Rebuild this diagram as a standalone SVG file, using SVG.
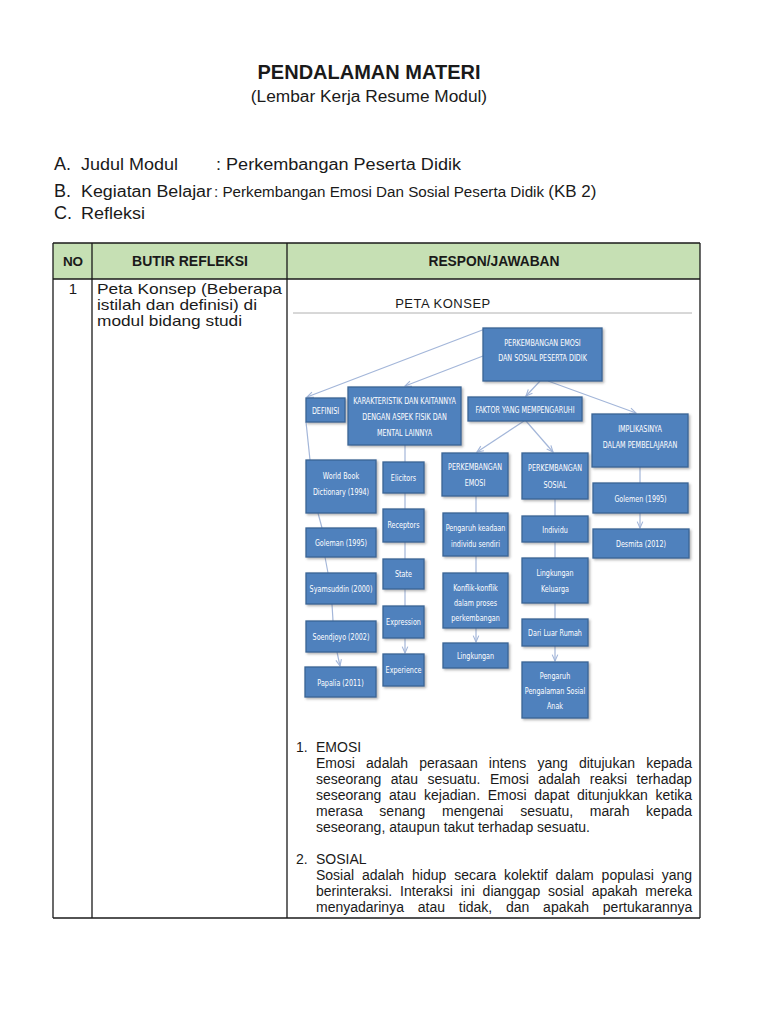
<svg xmlns="http://www.w3.org/2000/svg" width="768" height="1024" viewBox="0 0 768 1024">
<defs>
<style>
.t{font-family:"Liberation Sans",Arial,sans-serif;fill:#1a1a1a}
.b{font-weight:bold}
.m{font-family:"DejaVu Sans Condensed","Liberation Sans",sans-serif;font-size:9.4px;fill:#ffffff;text-anchor:middle}
.n{fill:#4f81bd;stroke:#3a6495;stroke-width:1.3;filter:url(#sh)}
.c{fill:none;stroke:#a3b6d9;stroke-width:1.2}
.a{marker-end:url(#arr)}
.g{stroke:#1a1a1a;stroke-width:1.3;fill:none}
.p{font-size:14px}
.h{font-size:16px}
.k{font-size:18px}
</style>
<filter id="sh" x="-10%" y="-10%" width="130%" height="130%">
<feDropShadow dx="1.5" dy="1.5" stdDeviation="1" flood-color="#555" flood-opacity="0.45"/>
</filter>
<marker id="arr" viewBox="0 0 10 10" refX="9" refY="5" markerWidth="8" markerHeight="8" orient="auto" markerUnits="userSpaceOnUse">
<path d="M1,1.5 L9,5 L1,8.5" fill="none" stroke="#a3b6d9" stroke-width="1.4"/>
</marker>
</defs>
<rect width="768" height="1024" fill="#ffffff"/>

<!-- Header -->
<text class="t b" x="369" y="79" font-size="20" text-anchor="middle">PENDALAMAN MATERI</text>
<text class="t" x="369" y="102" font-size="17.3" text-anchor="middle">(Lembar Kerja Resume Modul)</text>

<text class="t k" x="54" y="170">A.</text>
<text class="t h" x="81" y="170" textLength="97" lengthAdjust="spacingAndGlyphs">Judul Modul</text>
<text class="t h" x="216" y="170" textLength="245" lengthAdjust="spacingAndGlyphs">: Perkembangan Peserta Didik</text>
<text class="t k" x="54" y="197">B.</text>
<text class="t h" x="81" y="197" textLength="131" lengthAdjust="spacingAndGlyphs">Kegiatan Belajar</text>
<text class="t" x="214" y="197" font-size="15.2">: Perkembangan Emosi Dan Sosial Peserta Didik <tspan font-size="17">(KB 2)</tspan></text>
<text class="t k" x="54" y="219">C.</text>
<text class="t h" x="81" y="219" textLength="64" lengthAdjust="spacingAndGlyphs">Refleksi</text>

<!-- Table -->
<g id="table">
<rect x="53" y="243" width="647" height="36" fill="#c6e0b4"/>
<line class="g" x1="53" y1="243" x2="700" y2="243"/>
<line class="g" x1="53" y1="279" x2="700" y2="279" stroke-width="2"/>
<line class="g" x1="53" y1="918" x2="700" y2="918" stroke-width="2"/>
<line class="g" x1="53" y1="243" x2="53" y2="918"/>
<line class="g" x1="92" y1="243" x2="92" y2="918"/>
<line class="g" x1="287" y1="243" x2="287" y2="918"/>
<line class="g" x1="700" y1="243" x2="700" y2="918"/>
<text class="t b" x="73" y="266" font-size="13.5" text-anchor="middle">NO</text>
<text class="t b" x="190" y="266" font-size="14" text-anchor="middle">BUTIR REFLEKSI</text>
<text class="t b" x="494" y="266" font-size="13.8" text-anchor="middle">RESPON/JAWABAN</text>
<text class="t" x="73" y="294" font-size="15" text-anchor="middle">1</text>
<text class="t" x="97" y="294" font-size="15" textLength="185" lengthAdjust="spacingAndGlyphs">Peta Konsep (Beberapa</text>
<text class="t" x="97" y="310" font-size="15" textLength="160" lengthAdjust="spacingAndGlyphs">istilah dan definisi) di</text>
<text class="t" x="97" y="326" font-size="15" textLength="145" lengthAdjust="spacingAndGlyphs">modul bidang studi</text>
</g>

<!-- Peta konsep heading -->
<text class="t" x="443" y="308" font-size="13" text-anchor="middle" letter-spacing="0.5">PETA KONSEP</text>
<line x1="293" y1="313" x2="692" y2="313" stroke="#b0b0b0" stroke-width="1"/>

<!-- Connectors -->
<g id="connectors">
<line class="c a" x1="485" y1="329" x2="307" y2="397"/>
<line class="c a" x1="483" y1="356" x2="405" y2="386"/>
<line class="c a" x1="540" y1="381" x2="526" y2="396"/>
<line class="c a" x1="548" y1="381" x2="636" y2="413"/>
<line class="c a" x1="524" y1="421" x2="477" y2="452"/>
<line class="c a" x1="526" y1="421" x2="553" y2="452"/>
<line class="c" x1="306" y1="422" x2="310" y2="460"/>
<line class="c" x1="318" y1="513" x2="322" y2="528"/>
<line class="c" x1="325" y1="557" x2="328" y2="573"/>
<line class="c" x1="332" y1="604" x2="333" y2="621"/>
<line class="c a" x1="337" y1="652" x2="340" y2="666"/>
<line class="c" x1="405" y1="445" x2="405" y2="462"/>
<line class="c" x1="405" y1="493" x2="405" y2="509"/>
<line class="c" x1="405" y1="542" x2="405" y2="559"/>
<line class="c" x1="405" y1="589" x2="405" y2="606"/>
<line class="c a" x1="405" y1="638" x2="405" y2="653"/>
<line class="c" x1="476" y1="496" x2="476" y2="513"/>
<line class="c" x1="476" y1="556" x2="476" y2="573"/>
<line class="c a" x1="476" y1="628" x2="476" y2="642"/>
<line class="c" x1="555" y1="499" x2="555" y2="516"/>
<line class="c" x1="555" y1="542" x2="555" y2="558"/>
<line class="c" x1="555" y1="603" x2="555" y2="619"/>
<line class="c a" x1="555" y1="646" x2="555" y2="661"/>
<line class="c" x1="640" y1="467" x2="640" y2="483"/>
<line class="c a" x1="640" y1="513" x2="640" y2="528"/>
</g>

<!-- Nodes -->
<g id="n-root"><rect class="n" x="483" y="328" width="119" height="53"/><text class="m" transform="translate(542.5 346) scale(0.76 1)">PERKEMBANGAN EMOSI</text><text class="m" transform="translate(542.5 361) scale(0.76 1)">DAN SOSIAL PESERTA DIDIK</text></g>
<g id="n-definisi"><rect class="n" x="306" y="398" width="39" height="24"/><text class="m" transform="translate(325.5 414) scale(0.76 1)">DEFINISI</text></g>
<g id="n-karakteristik"><rect class="n" x="348" y="387" width="113" height="58"/><text class="m" transform="translate(404.5 404) scale(0.76 1)">KARAKTERISTIK DAN KAITANNYA</text><text class="m" transform="translate(404.5 420) scale(0.76 1)">DENGAN ASPEK FISIK DAN</text><text class="m" transform="translate(404.5 436) scale(0.76 1)">MENTAL LAINNYA</text></g>
<g id="n-faktor"><rect class="n" x="468" y="397" width="114" height="24"/><text class="m" transform="translate(525 413) scale(0.76 1)">FAKTOR YANG MEMPENGARUHI</text></g>
<g id="n-implikasi"><rect class="n" x="592" y="414" width="96" height="53"/><text class="m" transform="translate(640 432) scale(0.76 1)">IMPLIKASINYA</text><text class="m" transform="translate(640 448) scale(0.76 1)">DALAM PEMBELAJARAN</text></g>
<g id="n-worldbook"><rect class="n" x="306" y="460" width="70" height="53"/><text class="m" transform="translate(341 479) scale(0.76 1)">World Book</text><text class="m" transform="translate(341 495) scale(0.76 1)">Dictionary (1994)</text></g>
<g id="n-elicitors"><rect class="n" x="383" y="462" width="41" height="31"/><text class="m" transform="translate(403.5 481) scale(0.76 1)">Elicitors</text></g>
<g id="n-pemosi"><rect class="n" x="442" y="453" width="66" height="43"/><text class="m" transform="translate(475 470) scale(0.76 1)">PERKEMBANGAN</text><text class="m" transform="translate(475 486) scale(0.76 1)">EMOSI</text></g>
<g id="n-psosial"><rect class="n" x="522" y="453" width="66" height="46"/><text class="m" transform="translate(555 471) scale(0.76 1)">PERKEMBANGAN</text><text class="m" transform="translate(555 488) scale(0.76 1)">SOSIAL</text></g>
<g id="n-golemen"><rect class="n" x="593" y="483" width="95" height="30"/><text class="m" transform="translate(640.5 502) scale(0.76 1)">Golemen (1995)</text></g>
<g id="n-goleman"><rect class="n" x="306" y="528" width="70" height="29"/><text class="m" transform="translate(341 546) scale(0.76 1)">Goleman (1995)</text></g>
<g id="n-receptors"><rect class="n" x="383" y="509" width="41" height="33"/><text class="m" transform="translate(403.5 528) scale(0.76 1)">Receptors</text></g>
<g id="n-pengaruh"><rect class="n" x="443" y="513" width="65" height="43"/><text class="m" transform="translate(475.5 531) scale(0.76 1)">Pengaruh keadaan</text><text class="m" transform="translate(475.5 547) scale(0.76 1)">individu sendiri</text></g>
<g id="n-individu"><rect class="n" x="522" y="516" width="66" height="26"/><text class="m" transform="translate(555 533) scale(0.76 1)">Individu</text></g>
<g id="n-desmita"><rect class="n" x="593" y="529" width="96" height="29"/><text class="m" transform="translate(641 547) scale(0.76 1)">Desmita (2012)</text></g>
<g id="n-state"><rect class="n" x="383" y="559" width="41" height="30"/><text class="m" transform="translate(403.5 577) scale(0.76 1)">State</text></g>
<g id="n-syamsuddin"><rect class="n" x="306" y="573" width="70" height="31"/><text class="m" transform="translate(341 592) scale(0.76 1)">Syamsuddin (2000)</text></g>
<g id="n-konflik"><rect class="n" x="443" y="573" width="65" height="55"/><text class="m" transform="translate(475.5 591) scale(0.76 1)">Konflik-konflik</text><text class="m" transform="translate(475.5 606) scale(0.76 1)">dalam proses</text><text class="m" transform="translate(475.5 621) scale(0.76 1)">perkembangan</text></g>
<g id="n-keluarga"><rect class="n" x="522" y="558" width="66" height="45"/><text class="m" transform="translate(555 576) scale(0.76 1)">Lingkungan</text><text class="m" transform="translate(555 592) scale(0.76 1)">Keluarga</text></g>
<g id="n-expression"><rect class="n" x="383" y="606" width="41" height="32"/><text class="m" transform="translate(403.5 625) scale(0.76 1)">Expression</text></g>
<g id="n-soendjoyo"><rect class="n" x="306" y="621" width="70" height="31"/><text class="m" transform="translate(341 640) scale(0.76 1)">Soendjoyo (2002)</text></g>
<g id="n-dariluar"><rect class="n" x="522" y="619" width="66" height="27"/><text class="m" transform="translate(555 636) scale(0.76 1)">Dari Luar Rumah</text></g>
<g id="n-lingkungan"><rect class="n" x="443" y="643" width="65" height="25"/><text class="m" transform="translate(475.5 659) scale(0.76 1)">Lingkungan</text></g>
<g id="n-experience"><rect class="n" x="383" y="654" width="41" height="32"/><text class="m" transform="translate(403.5 673) scale(0.76 1)">Experience</text></g>
<g id="n-papalia"><rect class="n" x="305" y="667" width="71" height="30"/><text class="m" transform="translate(340.5 686) scale(0.76 1)">Papalia (2011)</text></g>
<g id="n-pengsosial"><rect class="n" x="522" y="662" width="66" height="56"/><text class="m" transform="translate(555 679) scale(0.76 1)">Pengaruh</text><text class="m" transform="translate(555 694) scale(0.76 1)">Pengalaman Sosial</text><text class="m" transform="translate(555 709) scale(0.76 1)">Anak</text></g>

<!-- Paragraphs -->
<g class="t p">
<text x="296" y="752">1.</text><text x="316" y="752">EMOSI</text>
<text x="316" y="768" word-spacing="7.29">Emosi adalah perasaan intens yang ditujukan kepada</text>
<text x="316" y="784" word-spacing="5.56">seseorang atau sesuatu. Emosi adalah reaksi terhadap</text>
<text x="316" y="800" word-spacing="3.79">seseorang atau kejadian. Emosi dapat ditunjukkan ketika</text>
<text x="316" y="816" word-spacing="12.79">merasa senang mengenai sesuatu, marah kepada</text>
<text x="316" y="832">seseorang, ataupun takut terhadap sesuatu.</text>
<text x="296" y="864">2.</text><text x="316" y="864">SOSIAL</text>
<text x="316" y="880" word-spacing="4.02">Sosial adalah hidup secara kolektif dalam populasi yang</text>
<text x="316" y="896" word-spacing="3.92">berinteraksi. Interaksi ini dianggap sosial apakah mereka</text>
<text x="316" y="912" word-spacing="9.89">menyadarinya atau tidak, dan apakah pertukarannya</text>
</g>
</svg>
